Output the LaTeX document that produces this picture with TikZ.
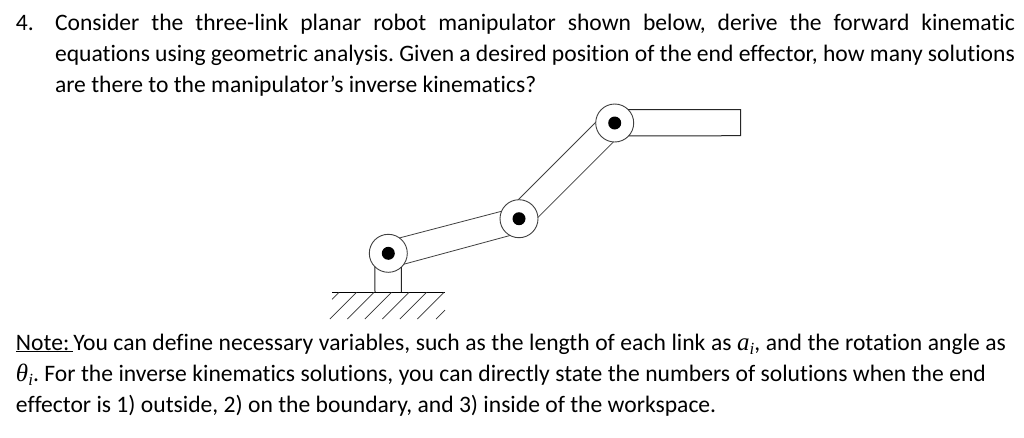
\documentclass[tikz,border=0pt]{standalone}
\usepackage{fontspec}
\setmainfont{Carlito}[Ligatures={NoCommon}]
\newfontfamily\mvarfont{Liberation Serif}
\newcommand{\jline}[2]{\hbox to #1pt{#2}}
\newcommand{\mvar}[1]{{\fontsize{25pt}{28pt}\selectfont\mvarfont\itshape #1\lower4.5pt\hbox{\fontsize{17pt}{17pt}\selectfont\mvarfont\itshape i}}}
\begin{document}
\begin{tikzpicture}[x=1pt,y=-1pt,
  txt/.style={anchor=base west,inner sep=0pt,outer sep=0pt,font=\fontsize{23.6pt}{28pt}\selectfont\frenchspacing},
  joint/.style={circle,draw=black!75,fill=white,line width=0.9pt,minimum size=38pt,inner sep=0pt,outer sep=0pt},
  pin/.style={circle,fill=black,minimum size=13pt,inner sep=0pt,outer sep=0pt},
  linkline/.style={draw=black!75,line width=0.8pt},
  solidline/.style={draw=black!85,line width=1pt},
  hatch/.style={draw=black!80,line width=0.7pt}]
\useasboundingbox (0,0) rectangle (1024,437);
\fill[white] (0,0) rectangle (1024,437);
% text
\node[txt] (n0) at (16,30) {4.};
\node[txt] (l1) at (55,30) {\jline{960}{Consider the three-link planar robot manipulator shown below, derive the forward kinematic}};
\node[txt] (l2) at (55,61) {\jline{960}{equations using geometric analysis. Given a desired position of the end effector, how many solutions}};
\node[txt] (l3) at (55,92) {are there to the manipulator’s inverse kinematics?};
\node[txt] (l4) at (16,350) {\jline{990}{\underline{Note:\,}You can define necessary variables, such as the length of each link as \mvar{a}, and the rotation angle as}};
\node[txt] (l5) at (16,381) {\jline{970}{\mvar{θ}. For the inverse kinematics solutions, you can directly state the numbers of solutions when the end}};
\node[txt] (l6) at (16,412) {effector is 1) outside, 2) on the boundary, and 3) inside of the workspace.};
% joints
\node[joint] (j1) at (388.3,253.3) {};
\node[joint] (j2) at (519,218.7) {};
\node[joint] (j3) at (614.7,123) {};
\node[pin] (p1) at (j1) {};
\node[pin] (p2) at (j2) {};
\node[pin] (p3) at (j3) {};
% links
\draw[linkline] (j1.54) -- (j2.157);
\draw[linkline] (j1.-35) -- (j2.-118);
\draw[linkline] (j2.92) -- (j3.178);
\draw[linkline] (j2.4) -- (j3.-94);
% end link
\coordinate (e1) at (740.7,109.7);
\coordinate (e2) at (740.7,135.7);
\draw[solidline] (j3.45) -- (e1) -- (e2) -- (j3.-43);
% base
\coordinate (gl) at (332,292.3);
\coordinate (gr) at (445,292.3);
\coordinate (b1) at (375,292.3);
\coordinate (b2) at (401.3,292.3);
\draw[solidline] (j1.-135) -- (b1);
\draw[solidline] (j1.-47) -- (b2);
\draw[draw=black,line width=1.2pt] (gl) -- (gr);
% hatching
\foreach \x in {356.5,374,391.5,409,426.5,444}{
  \draw[hatch] (\x,292.3) -- ++(-26.7,26.7);
}
\draw[hatch] (339,292.3) -- (332,299.3);
\draw[hatch] (445,310) -- (436,319);
\end{tikzpicture}
\end{document}
